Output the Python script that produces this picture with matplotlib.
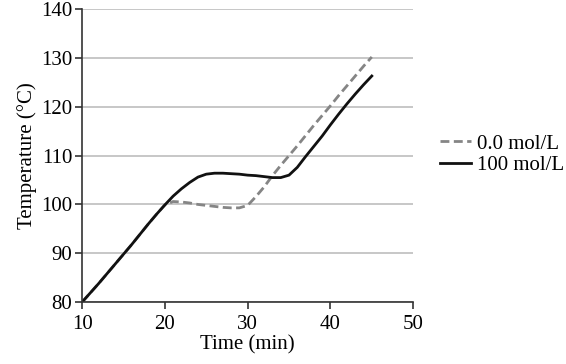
import matplotlib
matplotlib.use("Agg")
import matplotlib.pyplot as plt
from matplotlib import font_manager

#  Data
#  ################################################################
time = [10, 11, 12, 13, 14, 15, 16, 17, 18, 19, 20, 21, 22, 23, 24, 25, 26, 27,
        28, 29, 30, 31, 32, 33, 34, 35, 36, 37, 38, 39, 40, 41, 42, 43, 44, 45]

temp_100 = [80, 81.9, 83.8, 85.8, 87.8, 89.8, 91.8, 93.9, 96.0, 98.0, 99.9,
            101.7, 103.2, 104.5, 105.6, 106.2, 106.4, 106.4, 106.3, 106.2, 106.0,
            105.9, 105.7, 105.5, 105.5, 106.0, 107.6, 109.8, 111.9, 114.0, 116.3,
            118.5, 120.6, 122.6, 124.5, 126.3]

temp_0 = [80, 81.9, 83.8, 85.8, 87.8, 89.8, 91.8, 93.9, 96.0, 98.0, 99.9,
          100.6, 100.5, 100.3, 100.0, 99.8, 99.6, 99.4, 99.3, 99.3, 99.8,
          101.6, 103.6, 105.9, 108.0, 110.0, 112.0, 114.1, 116.2, 118.2, 120.2,
          122.3, 124.3, 126.3, 128.3, 130.2]

labels = ["0.0 mol/L", "100 mol/L"]
xticks = [10, 20, 30, 40, 50]
yticks = [80, 90, 100, 110, 120, 130, 140]

#  Font: first Times-like serif that is installed
#  ################################################################
serif = "DejaVu Serif"
for name in ["Liberation Serif", "Times New Roman", "Nimbus Roman"]:
    try:
        font_manager.findfont(name, fallback_to_default=False)
        serif = name
        break
    except ValueError:
        pass

plt.rcParams["font.family"] = [serif, "DejaVu Serif"]
plt.rcParams["font.size"] = 15

fig = plt.figure(figsize=(5.66, 3.64), dpi=100)
ax = fig.add_axes([0.145, 0.17, 0.585, 0.805])

l0, = ax.plot(time, temp_0, color="#858585", lw=2, ls=(0, (3.2, 1.6)),
              label=labels[0])
l1, = ax.plot(time, temp_100, color="#111111", lw=2, label=labels[1])

ax.set_xlim(10, 50)
ax.set_ylim(80, 140)
ax.set_xticks(xticks)
ax.set_yticks(yticks)
ax.yaxis.grid(True, color="#bdbdbd", lw=1.2)
ax.set_axisbelow(True)

for s in ["top", "right"]:
    ax.spines[s].set_visible(False)
for s in ["left", "bottom"]:
    ax.spines[s].set_color("#333333")
    ax.spines[s].set_linewidth(1.2)
ax.tick_params(direction="out", length=5, width=1.2, color="#333333",
               labelsize=15, pad=2)
ax.tick_params(axis="x", pad=4)

ax.set_xlabel("Time (min)", fontsize=15, labelpad=1)
ax.set_ylabel("Temperature (°C)", fontsize=15, labelpad=3)

fig.legend(handles=[l0, l1], loc="center left", bbox_to_anchor=(0.777, 0.575),
           frameon=False, fontsize=15, handlelength=1.5, handletextpad=0.3,
           labelspacing=0.1, borderpad=0, borderaxespad=0)

fig.savefig("out.png", dpi=100)
